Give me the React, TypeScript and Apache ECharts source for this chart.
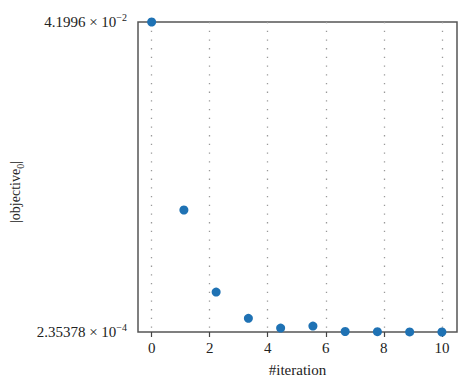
import React, { useEffect, useRef } from "react";
import * as echarts from "echarts";

const iterations = [0, 1.111, 2.222, 3.333, 4.444, 5.556, 6.667, 7.778, 8.889, 10];
const objective = [0.041996, 0.01667, 0.00562, 0.00208, 0.00077, 0.00104, 0.0003, 0.00028, 0.00025, 0.000235378];
const xTicks = [0, 2, 4, 6, 8, 10];
const yMin = 0.000235378;
const yMax = 0.041996;
const yTickLabels: Record<string, [string, string]> = {
  min: ["2.35378 × 10", "−4"],
  max: ["4.1996 × 10", "−2"],
};

const FONT = "Liberation Serif";
const TXT = "#222";

export default function App() {
  const ref = useRef<HTMLDivElement>(null);
  useEffect(() => {
    const chart = echarts.init(ref.current!, null, { renderer: "svg" });
    chart.setOption({
      animation: false,
      textStyle: { fontFamily: FONT },
      grid: {
        left: 138,
        top: 22,
        right: 17,
        bottom: 59,
        show: true,
        borderColor: "#555",
        borderWidth: 1.5,
        backgroundColor: "transparent",
      },
      xAxis: {
        type: "value",
        min: -0.47,
        max: 10.52,
        name: "#iteration",
        nameLocation: "middle",
        nameGap: 30,
        nameTextStyle: { fontFamily: FONT, fontSize: 15, color: TXT },
        axisLine: { show: false },
        axisTick: { show: true, length: 5, inside: false, customValues: xTicks, lineStyle: { color: "#444", width: 1.2 } },
        axisLabel: { customValues: xTicks, margin: 8, fontFamily: FONT, fontSize: 15, color: TXT },
        splitLine: { show: true, lineStyle: { color: "#999", width: 1.3, type: [1.3, 7.4] } },
      },
      yAxis: {
        type: "value",
        min: yMin,
        max: yMax,
        name: "{a||objective}{sub|0}{a||}",
        nameLocation: "middle",
        nameGap: 97,
        nameRotate: 90,
        nameTextStyle: {
          fontFamily: FONT,
          color: TXT,
          padding: [0, 30, 0, 0],
          rich: {
            a: { fontFamily: FONT, fontSize: 14, color: TXT, lineHeight: 20 },
            sub: { fontFamily: FONT, fontSize: 10, color: TXT, lineHeight: 10, verticalAlign: "bottom" },
          },
        },
        axisLine: { show: false },
        axisTick: { show: false },
        splitLine: { show: false },
        axisLabel: {
          customValues: [yMin, yMax],
          margin: 11,
          formatter: (v: number) => {
            const key = Math.abs(v - yMin) < 1e-9 ? "min" : "max";
            const [m, e] = yTickLabels[key];
            return `{m|${m}}{s|${e}}`;
          },
          rich: {
            m: { fontFamily: FONT, fontSize: 15, color: TXT, lineHeight: 20 },
            s: { fontFamily: FONT, fontSize: 10, color: TXT, lineHeight: 10, verticalAlign: "top" },
          },
        },
      },
      series: [
        {
          type: "scatter",
          data: iterations.map((x, i) => [x, objective[i]]),
          symbolSize: 9,
          itemStyle: { color: "#1f72b4", opacity: 1 },
          clip: true,
        },
      ],
    });
    return () => chart.dispose();
  }, []);
  return <div ref={ref} style={{ width: 474, height: 391, margin: -8 }} />;
}
